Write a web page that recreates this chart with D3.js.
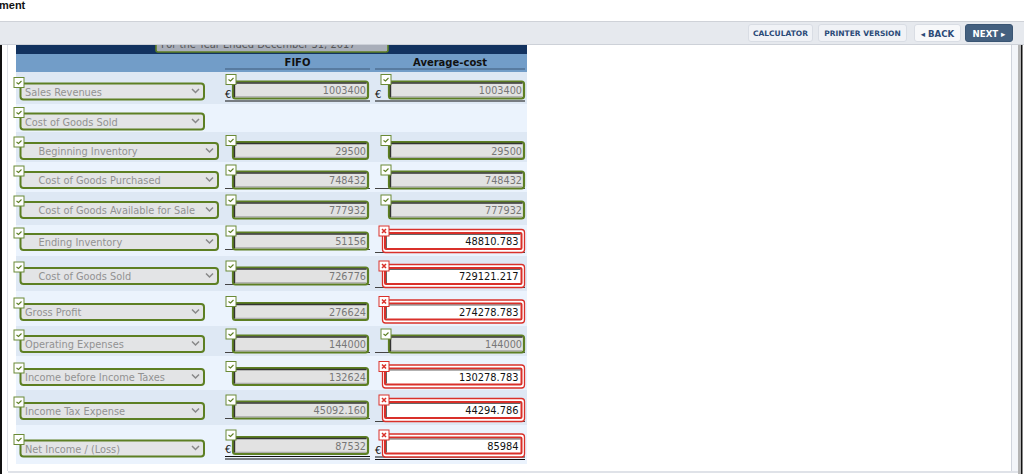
<!DOCTYPE html>
<html><head><meta charset="utf-8">
<script src="https://cdnjs.cloudflare.com/ajax/libs/d3/7.8.5/d3.min.js"></script>
<style>html,body{margin:0;padding:0;background:#fff;overflow:hidden}svg{display:block}text{font-family:"DejaVu Sans",Verdana,sans-serif}</style>
</head><body><svg id="c" width="1024" height="474"></svg>
<script>
const labels=["Sales Revenues","Cost of Goods Sold","Beginning Inventory","Cost of Goods Purchased","Cost of Goods Available for Sale","Ending Inventory","Cost of Goods Sold ","Gross Profit","Operating Expenses","Income before Income Taxes","Income Tax Expense","Net Income / (Loss)"];
const indented=[0,0,1,1,1,1,1,0,0,0,0,0];
const fifoValues=["1003400",null,"29500","748432","777932","51156","726776","276624","144000","132624","45092.160","87532"];
const avgValues=["1003400",null,"29500","748432","777932","48810.783","729121.217","274278.783","144000","130278.783","44294.786","85984"];
const avgWrong=[0,0,0,0,0,1,1,1,0,1,1,1];
const rules=[1,0,0,1,0,1,1,0,1,0,1,2];
const euro=[1,0,0,0,0,0,0,0,0,0,0,1];
const columns=["FIFO","Average-cost"];
const buttons=["CALCULATOR","PRINTER VERSION","◂ BACK","NEXT ▸"];
const pageTitle="ment";
const statementTitle="For the Year Ended December 31, 2017";

const svg=d3.select("#c");
const GREEN="#5d7f23",RED="#d9302a";
const y=d3.scaleOrdinal().domain(labels).range([91.5,121.5,151,180,210,242,276,312,344,377,411,448.5]);
const inputY=d3.scaleOrdinal().domain(labels).range([90,121,150.5,180,210,241,276,311.5,344,376.5,410,445.5]);
const bandEdges=[72,104,132,162,192,225,256,291,326,356,390,425,464];

svg.append("rect").attr("x",0).attr("y",45).attr("width",2).attr("height",429).attr("fill","#111");
svg.append("rect").attr("x",7).attr("y",45).attr("width",1).attr("height",426).attr("fill","#dfe2e8");
svg.append("rect").attr("x",8).attr("y",471).attr("width",1012).attr("height",2).attr("fill","#dfe2e8");
svg.append("rect").attr("x",1012).attr("y",45).attr("width",7).attr("height",426).attr("fill","#f3f5f9");
svg.append("rect").attr("x",1011).attr("y",45).attr("width",1).attr("height",426).attr("fill","#d0d4dc");
svg.append("rect").attr("x",1018).attr("y",45).attr("width",3).attr("height",429).attr("fill","#b4b4b4");
svg.append("rect").attr("x",1021).attr("y",45).attr("width",1.5).attr("height",429).attr("fill","#111");

svg.append("rect").attr("x",16).attr("y",44).attr("width",511).attr("height",10).attr("fill","#12325f");
svg.append("rect").attr("x",156).attr("y",34).attr("width",232).attr("height",18).attr("rx",2).attr("fill","#a9aeb9").attr("stroke",GREEN).attr("stroke-width",1.6);
svg.append("text").attr("x",161).attr("y",47.5).attr("font-size",9.9).attr("fill","#555").text(statementTitle);

svg.append("rect").attr("x",0).attr("y",22).attr("width",1024).attr("height",22.5).attr("fill","#e6e9ee");
svg.append("rect").attr("x",0).attr("y",21).attr("width",1024).attr("height",1).attr("fill","#cfd2d8");
svg.append("rect").attr("x",0).attr("y",44).attr("width",1024).attr("height",1).attr("fill","#cdd1d8");
svg.append("text").attr("x",-1).attr("y",9).attr("font-size",11).attr("font-weight","bold").style("font-family","'Liberation Sans',Arial,sans-serif").attr("fill","#111").text(pageTitle);

const btn=d3.scaleOrdinal().domain(buttons).range([[748,64],[818,88],[914,46],[965,47]]);
const bs=svg.selectAll("g.btn").data(buttons).join("g");
bs.append("rect").attr("x",d=>btn(d)[0]+.5).attr("y",24.5).attr("width",d=>btn(d)[1]).attr("height",17).attr("rx",2.5)
 .attr("fill",(d,i)=>i==3?"#44607f":(i==2?"#f7f8fa":"#f0f2f6")).attr("stroke",(d,i)=>i==3?"#3a5573":"#d9dde4");
bs.append("text").attr("x",d=>btn(d)[0]+btn(d)[1]/2+.5).attr("y",(d,i)=>i>1?36.5:35.5).attr("text-anchor","middle").attr("font-weight","bold")
 .attr("font-size",(d,i)=>i>1?8.6:7.5).attr("fill",(d,i)=>i==3?"#fff":"#2b4a78").text(d=>d);

svg.append("rect").attr("x",16).attr("y",54).attr("width",511).attr("height",18).attr("fill","#729dc8");
const colX=d3.scaleOrdinal().domain(columns).range([225,375]);
const colW=d3.scaleOrdinal().domain(columns).range([145,150]);
columns.forEach(c=>{
 svg.append("rect").attr("x",colX(c)).attr("y",68.5).attr("width",colW(c)).attr("height",1).attr("fill","#3f5a78");
 svg.append("text").attr("x",colX(c)+colW(c)/2).attr("y",66).attr("text-anchor","middle").attr("font-size",10).attr("font-weight","bold").attr("fill","#111").text(c);
});

const tick=(x,yy,wrong)=>{
 const g=svg.append("g").attr("transform",`translate(${x},${yy})`);
 g.append("rect").attr("x",.5).attr("y",.5).attr("width",10).attr("height",10).attr("fill","#fff").attr("stroke",wrong?RED:"#6a8a36");
 if(wrong) g.append("path").attr("d","M3.5 3.5L7.5 7.5M7.5 3.5L3.5 7.5").attr("stroke",RED).attr("stroke-width",1.5);
 else g.append("path").attr("d","M3 5.5L5 7L8 4").attr("fill","none").attr("stroke",GREEN).attr("stroke-width",1.1);
};
const input=(x0,x1,cy,val,wrong)=>{
 if(wrong){
  svg.append("rect").attr("x",x0+.5).attr("y",cy-11.5).attr("width",x1-x0-1).attr("height",23).attr("rx",3).attr("fill","#fff").attr("stroke",RED).attr("stroke-width",1.3);
  svg.append("rect").attr("x",x0+3).attr("y",cy-8).attr("width",x1-x0-6.5).attr("height",16).attr("rx",1).attr("fill","#fff").attr("stroke",RED).attr("stroke-width",2);
  svg.append("path").attr("d",`M${x0+4.5} ${cy+7}V${cy-6.5}H${x1-4.5}`).attr("fill","none").attr("stroke","#666").attr("stroke-width",1);
  svg.append("text").attr("x",x1-6.5).attr("y",cy+4).attr("text-anchor","end").attr("font-size",9.85).attr("fill","#111").text(val);
 }else{
  svg.append("rect").attr("x",x0+1).attr("y",cy-8.5).attr("width",x1-x0-2).attr("height",17).attr("rx",2.5).attr("fill","#e2e2e2").attr("stroke",GREEN).attr("stroke-width",2.2);
  svg.append("path").attr("d",`M${x0+2.5} ${cy+7}V${cy-7}H${x1-2.5}`).attr("fill","none").attr("stroke","#333").attr("stroke-width",1.4);
  svg.append("path").attr("d",`M${x0+3} ${cy+6.8}H${x1-3}`).attr("fill","none").attr("stroke","#909090").attr("stroke-width",.8);
  svg.append("text").attr("x",x1-3).attr("y",cy+4).attr("text-anchor","end").attr("font-size",9.7).attr("fill","#777").text(val);
 }
};

const rows=svg.selectAll("g.row").data(labels).join("g");
rows.append("rect").attr("x",16).attr("y",(d,i)=>bandEdges[i]).attr("width",511).attr("height",(d,i)=>bandEdges[i+1]-bandEdges[i]).attr("fill",(d,i)=>i%2?"#ebf3fd":"#dee8f4");

labels.forEach((lab,i)=>{
 const cy=y(lab), ic=inputY(lab), sel=indented[i];
 const x1=sel?218:204;
 svg.append("rect").attr("x",20.5).attr("y",cy-8).attr("width",x1-20.5).attr("height",16).attr("rx",3).attr("fill","#e3e4e6").attr("stroke",GREEN).attr("stroke-width",2);
 svg.append("text").attr("x",sel?38.5:25).attr("y",cy+4).attr("font-size",9.8).attr("fill","#929292").text(lab.trim());
 svg.append("path").attr("d",`M${x1-12} ${cy-2.5}L${x1-8.5} ${cy+1}L${x1-5} ${cy-2.5}`).attr("fill","none").attr("stroke","#888").attr("stroke-width",1.5);
 tick(13.5,cy-14.5,false);
 if(fifoValues[i]===null) return;
 const rowRule=rules[i];
 [["FIFO",fifoValues[i],false],["Average-cost",avgValues[i],!!avgWrong[i]]].forEach(([c,v,w])=>{
  const cx=colX(c),x0=c=="FIFO"?232:(w?382:388),xe=c=="FIFO"?369:525;
  const ruleTop=ic+(w?11:(euro[i]?10.5:8));
  if(rowRule){
   svg.append("rect").attr("x",cx).attr("y",ruleTop).attr("width",colW(c)).attr("height",1).attr("fill",euro[i]?"#111":"#444");
   if(rowRule==2) svg.append("rect").attr("x",cx).attr("y",ruleTop+2.5).attr("width",colW(c)).attr("height",1).attr("fill","#111");
  }
  if(euro[i]) svg.append("text").attr("x",cx).attr("y",ic+(w?8.5:7.5)).attr("font-size",10).attr("fill","#111").text("€");
  input(x0,xe,ic,v,w);
  tick(c=="FIFO"?225.5:(w?378.5:380.5),ic-(i==0||i==11?16:15.5),w);
 });
});
</script></body></html>
